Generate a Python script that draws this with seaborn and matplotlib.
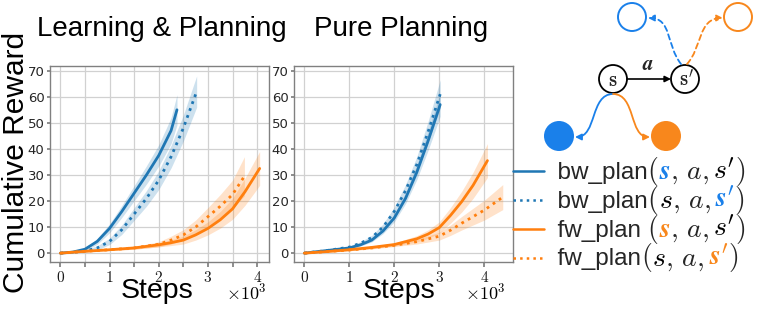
import numpy as np
import pandas as pd
import matplotlib
matplotlib.use("Agg")
import matplotlib.pyplot as plt
import seaborn as sns
from matplotlib.ticker import MultipleLocator, FuncFormatter
from matplotlib.patches import Circle, FancyArrowPatch
from matplotlib.path import Path
from matplotlib.lines import Line2D
from matplotlib.offsetbox import HPacker, VPacker, TextArea, DrawingArea, AnchoredOffsetbox

# ---------------- data (steps, mean cumulative reward, band half-width) ----------------
# Learning & Planning
lp_bw_s_x = [0, 250, 500, 750, 1000, 1250, 1500, 1750, 2000, 2250, 2370]
lp_bw_s_y = [0, 0.4, 1.5, 4.5, 9.5, 16, 23, 30, 37.5, 47, 55]
lp_bw_s_sd = [0, 0.2, 0.6, 1.1, 1.7, 2.3, 2.9, 3.5, 4.1, 5.0, 5.8]

lp_bw_sp_x = [0, 250, 500, 750, 1000, 1250, 1500, 1750, 2000, 2250, 2500, 2770]
lp_bw_sp_y = [0, 0.3, 0.8, 2, 4.5, 9, 15, 21, 28, 37, 48, 62]
lp_bw_sp_sd = [0, 0.2, 0.4, 0.8, 1.2, 1.8, 2.4, 3.0, 3.6, 4.3, 5.0, 6.0]

lp_fw_s_x = [0, 500, 1000, 1500, 2000, 2250, 2500, 2750, 3000, 3250, 3500, 3750, 4050]
lp_fw_s_y = [0, 0.7, 1.3, 2.0, 3.2, 4.0, 5.0, 7.0, 9.5, 12.8, 17, 23.5, 32.5]
lp_fw_s_sd = [0, 0.2, 0.3, 0.5, 0.8, 1.1, 1.5, 2.0, 2.5, 3.2, 4.0, 5.2, 6.5]

lp_fw_sp_x = [0, 500, 1000, 1500, 2000, 2250, 2500, 2750, 3000, 3250, 3500, 3740]
lp_fw_sp_y = [0, 0.7, 1.3, 2.0, 3.4, 5, 7, 10, 14, 18, 22.5, 29.5]
lp_fw_sp_sd = [0, 0.2, 0.3, 0.5, 1.0, 1.5, 2.0, 2.7, 3.5, 4.5, 5.5, 7.5]

# Pure Planning
pp_bw_s_x = [0, 500, 1000, 1250, 1500, 1750, 2000, 2250, 2500, 2750, 3020]
pp_bw_s_y = [0, 1, 2, 3.2, 5, 8.5, 13.5, 21, 31, 43, 57]
pp_bw_s_sd = [0, 0.2, 0.4, 0.5, 0.7, 1.0, 1.5, 2.0, 2.8, 3.6, 4.5]

pp_bw_sp_x = [0, 500, 1000, 1250, 1500, 1750, 2000, 2250, 2500, 2750, 3020]
pp_bw_sp_y = [0, 1, 2.3, 3.8, 6, 10, 16, 24, 34, 46.5, 61]
pp_bw_sp_sd = [0, 0.2, 0.4, 0.6, 0.8, 1.2, 1.7, 2.3, 3.0, 4.0, 5.5]

pp_fw_s_x = [0, 500, 1000, 1500, 2000, 2500, 2750, 3000, 3250, 3500, 3750, 4070]
pp_fw_s_y = [0, 0.6, 1.3, 2.2, 3.3, 5.5, 7.3, 9.8, 14.5, 19.8, 26, 35.5]
pp_fw_s_sd = [0, 0.2, 0.3, 0.4, 0.6, 1.2, 1.6, 2.2, 3.0, 4.0, 5.0, 6.5]

pp_fw_sp_x = [0, 500, 1000, 1500, 2000, 2500, 3000, 3250, 3500, 3750, 4000, 4410]
pp_fw_sp_y = [0, 0.6, 1.2, 2.0, 3.0, 4.4, 6.5, 8.8, 11.5, 14, 16.5, 21.5]
pp_fw_sp_sd = [0, 0.2, 0.3, 0.4, 0.5, 0.9, 1.5, 2.0, 2.6, 3.2, 3.8, 4.8]

panel_titles = ["Learning & Planning", "Pure Planning"]
legend_names = ["bw_plan", "bw_plan", "fw_plan ", "fw_plan"]

BLUE = "#1f77b4"
ORANGE = "#ff7f0e"
BLUE_D = "#1a80ea"
ORANGE_D = "#f8871c"

sns.set_theme(style="whitegrid", rc={
    "axes.edgecolor": "0.5",
    "grid.color": "0.82",
    "grid.linewidth": 0.9,
    "xtick.bottom": True,
    "ytick.left": True,
    "xtick.major.size": 3.5,
    "ytick.major.size": 2.5,
    "xtick.color": "0.5",
    "ytick.color": "0.5",
    "xtick.labelcolor": "0.1",
    "ytick.labelcolor": "0.15",
})
plt.rcParams["font.family"] = ["DejaVu Sans"]
plt.rcParams["mathtext.fontset"] = "cm"

panels = [
    [(lp_bw_s_x, lp_bw_s_y, lp_bw_s_sd, BLUE, "-"),
     (lp_bw_sp_x, lp_bw_sp_y, lp_bw_sp_sd, BLUE, ":"),
     (lp_fw_s_x, lp_fw_s_y, lp_fw_s_sd, ORANGE, "-"),
     (lp_fw_sp_x, lp_fw_sp_y, lp_fw_sp_sd, ORANGE, ":")],
    [(pp_bw_s_x, pp_bw_s_y, pp_bw_s_sd, BLUE, "-"),
     (pp_bw_sp_x, pp_bw_sp_y, pp_bw_sp_sd, BLUE, ":"),
     (pp_fw_s_x, pp_fw_s_y, pp_fw_s_sd, ORANGE, "-"),
     (pp_fw_sp_x, pp_fw_sp_y, pp_fw_sp_sd, ORANGE, ":")],
]

W, H = 763, 311
fig = plt.figure(figsize=(W / 100, H / 100), dpi=100)
ax_l = fig.add_axes([50 / W, 1 - 262 / H, 219 / W, 196 / H])
ax_r = fig.add_axes([294 / W, 1 - 262 / H, 219 / W, 196 / H])
axes = [ax_l, ax_r]
xlims = [(-210, 4240), (-229, 4638)]
title_x = [0.511, 0.489]

for i, ax in enumerate(axes):
    for xs, ys, sd, col, ls in panels[i]:
        xs = np.array(xs, dtype=float)
        ys = np.array(ys, dtype=float)
        sd = np.array(sd, dtype=float)
        ax.fill_between(xs, ys - sd, ys + sd, color=col, alpha=0.22, lw=0)
        sns.lineplot(x=xs, y=ys, ax=ax, color=col, linestyle=ls, lw=2.0)
    ax.set_xlim(*xlims[i])
    ax.set_ylim(-3.4, 71.8)
    ax.yaxis.set_major_locator(MultipleLocator(10))
    ax.xaxis.set_major_locator(MultipleLocator(500 if i == 0 else 1000))
    ax.xaxis.set_major_formatter(FuncFormatter(
        lambda v, p: f"${v / 1000:.0f}$" if abs(v % 1000) < 1e-6 else ""))
    ax.tick_params(axis="x", labelsize=11, pad=2)
    ax.tick_params(axis="y", labelsize=9.5, pad=1.5)
    for s in ax.spines.values():
        s.set_linewidth(1.0)
    ax.set_xlabel("")
    ax.set_ylabel("")
    ax.text(title_x[i], 1.19, panel_titles[i], transform=ax.transAxes, ha="center", va="center",
            fontsize=20, family="Liberation Sans", color="black")
    ax.text(0.49 if i == 0 else 0.48, -0.15, "Steps", transform=ax.transAxes, ha="center", va="center",
            fontsize=20.5, family="Liberation Sans", color="black")
    ax.text(0.895 if i == 0 else 0.872, -0.158, r"$\times\mathbf{10^{3}}$", transform=ax.transAxes,
            ha="center", va="center", fontsize=13, color="black")

fig.text(16 / W, 1 - 162 / H, "Cumulative Reward", rotation=90, ha="center", va="center",
         fontsize=21.5, family="Liberation Sans", color="black")

# ---------------- diagram overlay (pixel coordinates) ----------------
ov = fig.add_axes([0, 0, 1, 1], zorder=5)
ov.set_xlim(0, W)
ov.set_ylim(H, 0)
ov.axis("off")
ov.patch.set_alpha(0)

ov.add_patch(Circle((632, 17), 14, fill=False, ec=BLUE_D, lw=1.4))
ov.add_patch(Circle((738, 17), 14, fill=False, ec=ORANGE_D, lw=1.4))
ov.add_patch(Circle((613, 79), 14, fill=False, ec="black", lw=1.3))
ov.add_patch(Circle((685, 79), 14, fill=False, ec="black", lw=1.3))
ov.add_patch(Circle((559, 136), 15, color=BLUE_D, lw=0))
ov.add_patch(Circle((666, 136), 15, color=ORANGE_D, lw=0))
ov.text(613, 80, r"$\mathbf{s}$", ha="center", va="center", fontsize=15)
ov.text(686, 80, r"$\mathbf{s}'$", ha="center", va="center", fontsize=15)
ov.text(648, 64, r"$\mathbfit{a}$", ha="center", va="center", fontsize=15)
ov.add_patch(FancyArrowPatch((627, 79), (671, 79), arrowstyle="-|>", mutation_scale=9,
                             color="black", lw=1.2, shrinkA=0, shrinkB=0))


def curve(p0, c1, c2, p1, col, ls):
    path = Path([p0, c1, c2, p1], [Path.MOVETO, Path.CURVE4, Path.CURVE4, Path.CURVE4])
    ov.add_patch(FancyArrowPatch(path=path, arrowstyle="-|>", mutation_scale=9, color=col,
                                 lw=1.3, linestyle=ls, shrinkA=0, shrinkB=0))


curve((681, 64), (666, 45), (672, 18), (648, 18), BLUE_D, (0, (3, 2)))
curve((687, 64), (702, 48), (698, 18), (723, 18), ORANGE_D, (0, (3, 2)))
curve((613, 94), (590, 94), (597, 137), (575, 137), BLUE_D, "-")
curve((613, 94), (636, 94), (629, 137), (650, 137), ORANGE_D, "-")

# ---------------- custom legend with coloured math ----------------
leg_styles = [(BLUE, "-", BLUE_D, 0), (BLUE, ":", BLUE_D, 2), (ORANGE, "-", ORANGE_D, 0), (ORANGE, ":", ORANGE_D, 2)]
rows = []
for name, (lc, ls, hc, which) in zip(legend_names, leg_styles):
    da = DrawingArea(22, 10, 0, 0)
    da.add_artist(Line2D([0, 22], [5.5, 5.5], color=lc, lw=1.8, linestyle=ls))
    s1 = TextArea(r"$\mathbfit{s}$" if which == 0 else r"$s$",
                  textprops=dict(fontsize=20, color=hc if which == 0 else "black"))
    s2 = TextArea(r"$\,\mathbfit{s}'$" if which == 2 else r"$\,s'$",
                  textprops=dict(fontsize=20, color=hc if which == 2 else "black"))
    parts = [da,
             TextArea("  " + name, textprops=dict(fontsize=17.5, family="Liberation Sans")),
             TextArea(r"$($", textprops=dict(fontsize=20)),
             s1,
             TextArea(r"$,\,a,$", textprops=dict(fontsize=20)),
             s2,
             TextArea(r"$)$", textprops=dict(fontsize=20))]
    rows.append(HPacker(children=parts, align="baseline", pad=0, sep=0))
vbox = VPacker(children=rows, align="left", pad=0, sep=-3)
anch = AnchoredOffsetbox(loc="upper left", child=vbox, pad=0, borderpad=0, frameon=False,
                         bbox_to_anchor=(513 / W, 1 - 155 / H), bbox_transform=fig.transFigure)
ov.add_artist(anch)

fig.savefig("out.png", dpi=100)
